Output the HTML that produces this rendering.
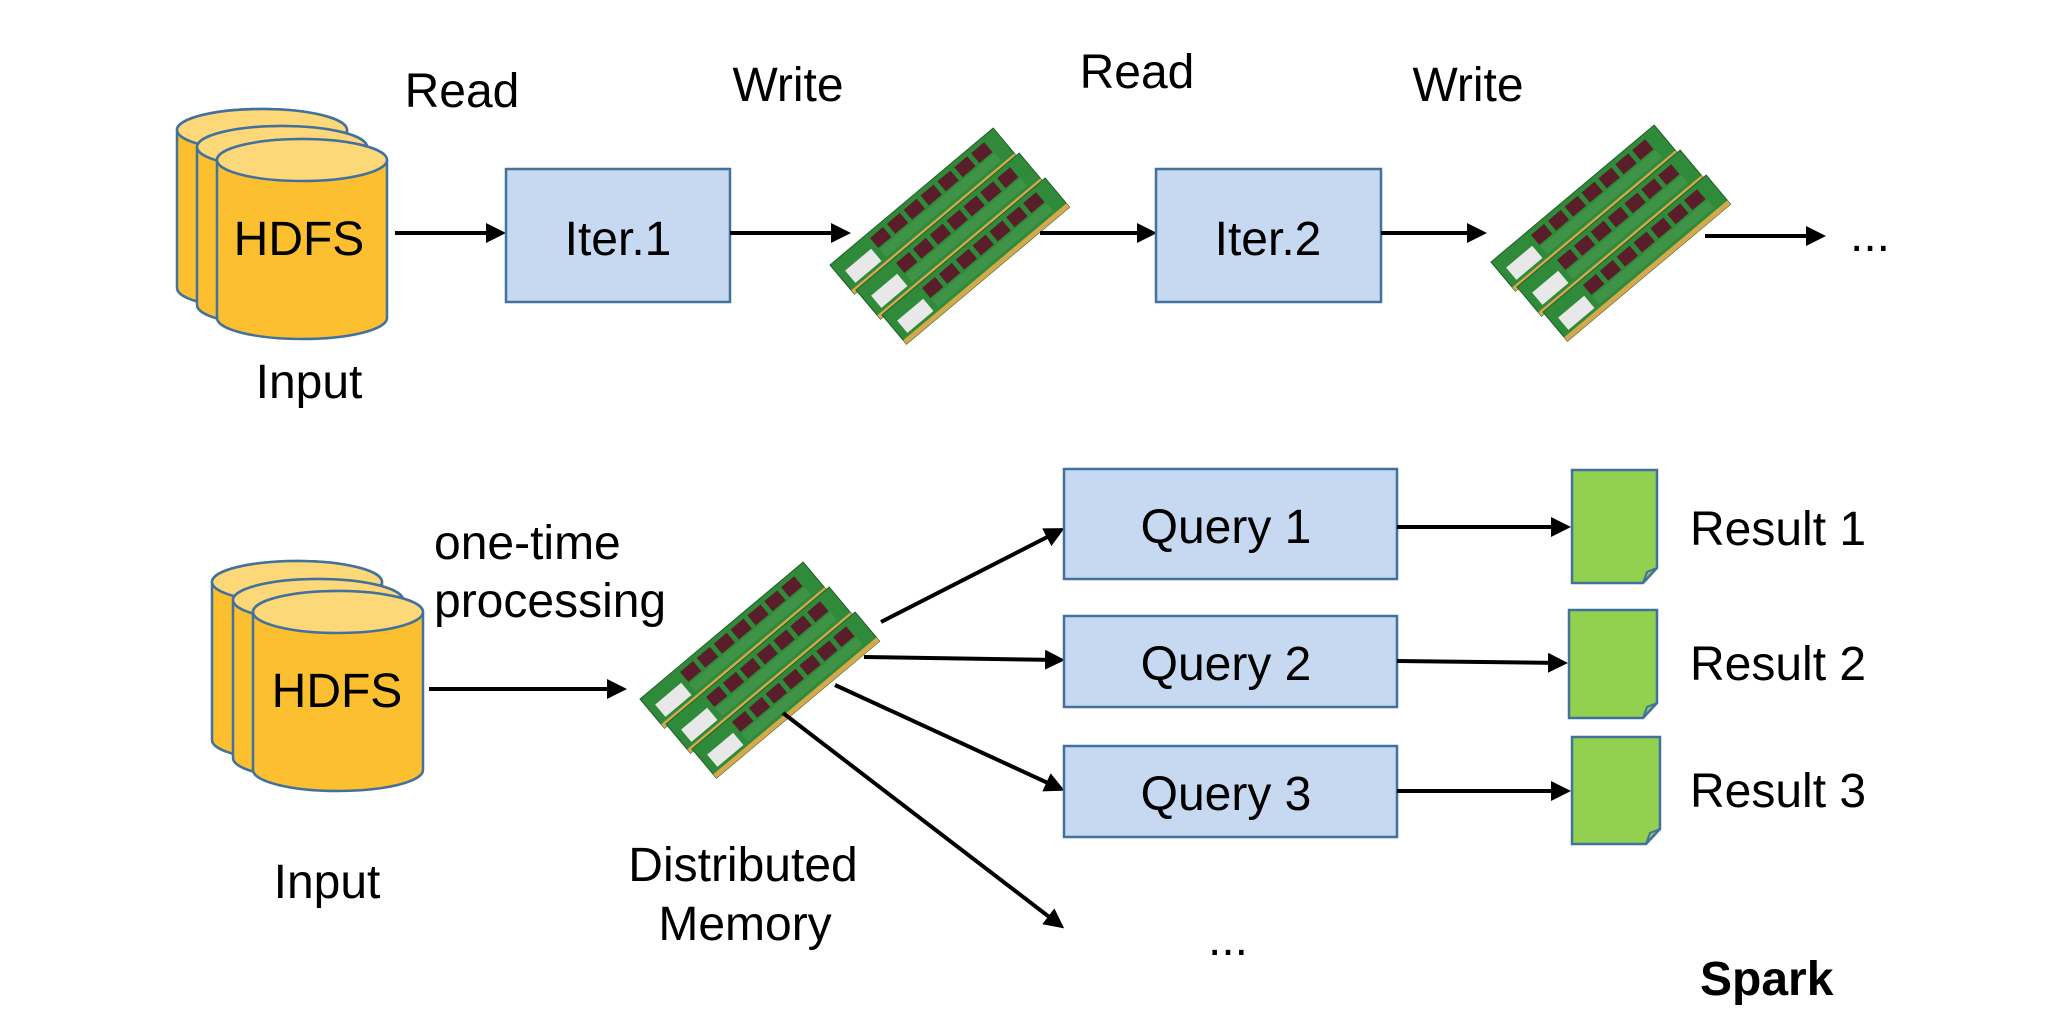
<!DOCTYPE html>
<html><head><meta charset="utf-8"><style>
html,body{margin:0;padding:0;background:#fff;}
svg{display:block;}
text{font-family:"Liberation Sans",sans-serif;fill:#000;}
</style></head><body>
<svg width="2054" height="1036" viewBox="0 0 2054 1036" xmlns="http://www.w3.org/2000/svg">
<defs>
<marker id="ah" markerWidth="5" markerHeight="5" refX="4" refY="2.5" orient="auto" markerUnits="strokeWidth">
<path d="M0,0 L5,2.5 L0,5 Z" fill="#000"/>
</marker>
<g id="stick">
<rect x="0" y="0" width="213" height="38" fill="#2f8a3a" stroke="#1f5f28" stroke-width="1"/>
<rect x="0" y="33" width="213" height="5" fill="#d6a84c"/>
<rect x="8" y="14" width="34" height="16" fill="#e8e8e8"/>
<rect x="48" y="5" width="17" height="13" fill="#5a1e2a"/>
<rect x="70" y="5" width="17" height="13" fill="#5a1e2a"/>
<rect x="92" y="5" width="17" height="13" fill="#5a1e2a"/>
<rect x="114" y="5" width="17" height="13" fill="#5a1e2a"/>
<rect x="136" y="5" width="17" height="13" fill="#5a1e2a"/>
<rect x="158" y="5" width="17" height="13" fill="#5a1e2a"/>
<rect x="180" y="5" width="17" height="13" fill="#5a1e2a"/>
<rect x="48" y="20" width="150" height="10" fill="#4a9a50" opacity="0.6"/>
</g>
<g id="ram">
<use href="#stick" transform="rotate(-40)"/>
<use href="#stick" transform="translate(26,25) rotate(-40)"/>
<use href="#stick" transform="translate(52,50) rotate(-40)"/>
</g>
<g id="cyl">
<path d="M0,0 A85,21 0 0 1 170,0 L170,158 A85,21 0 0 1 0,158 Z" fill="#fbbf2f" stroke="#41719c" stroke-width="2.5"/>
<ellipse cx="85" cy="0" rx="85" ry="21" fill="#fdd879" stroke="#41719c" stroke-width="2.5"/>
</g>
</defs>

<!-- Top row -->
<use href="#cyl" transform="translate(177,130)"/>
<use href="#cyl" transform="translate(197,147)"/>
<use href="#cyl" transform="translate(217,160)"/>
<text x="299" y="255" font-size="48" text-anchor="middle">HDFS</text>
<text x="309" y="398" font-size="48" text-anchor="middle">Input</text>

<text x="462" y="107" font-size="48" text-anchor="middle">Read</text>
<text x="788" y="101" font-size="48" text-anchor="middle">Write</text>
<text x="1137" y="88" font-size="48" text-anchor="middle">Read</text>
<text x="1468" y="101" font-size="48" text-anchor="middle">Write</text>

<line x1="395" y1="233" x2="502" y2="233" stroke="#000" stroke-width="4" marker-end="url(#ah)"/>
<rect x="506" y="169" width="224" height="133" fill="#c6d9f0" stroke="#41719c" stroke-width="2.5"/>
<text x="618" y="255" font-size="48" text-anchor="middle">Iter.1</text>
<line x1="730" y1="233" x2="847" y2="233" stroke="#000" stroke-width="4" marker-end="url(#ah)"/>
<use href="#ram" transform="translate(830,265)"/>
<line x1="1040" y1="233" x2="1153" y2="233" stroke="#000" stroke-width="4" marker-end="url(#ah)"/>
<rect x="1156" y="169" width="225" height="133" fill="#c6d9f0" stroke="#41719c" stroke-width="2.5"/>
<text x="1268" y="255" font-size="48" text-anchor="middle">Iter.2</text>
<line x1="1381" y1="233" x2="1483" y2="233" stroke="#000" stroke-width="4" marker-end="url(#ah)"/>
<use href="#ram" transform="translate(1491,262)"/>
<line x1="1705" y1="236" x2="1822" y2="236" stroke="#000" stroke-width="4" marker-end="url(#ah)"/>
<text x="1870" y="251" font-size="48" text-anchor="middle">...</text>

<!-- Bottom row -->
<use href="#cyl" transform="translate(212,582)"/>
<use href="#cyl" transform="translate(233,600)"/>
<use href="#cyl" transform="translate(253,612)"/>
<text x="337" y="707" font-size="48" text-anchor="middle">HDFS</text>
<text x="327" y="898" font-size="48" text-anchor="middle">Input</text>
<text x="434" y="559" font-size="48">one-time</text>
<text x="434" y="617" font-size="48">processing</text>
<line x1="429" y1="689" x2="623" y2="689" stroke="#000" stroke-width="4" marker-end="url(#ah)"/>
<use href="#ram" transform="translate(640,699)"/>
<text x="743" y="881" font-size="48" text-anchor="middle">Distributed</text>
<text x="745" y="940" font-size="48" text-anchor="middle">Memory</text>

<line x1="881" y1="622" x2="1061" y2="530" stroke="#000" stroke-width="4" marker-end="url(#ah)"/>
<line x1="864" y1="657" x2="1061" y2="660" stroke="#000" stroke-width="4" marker-end="url(#ah)"/>
<line x1="835" y1="685" x2="1061" y2="789" stroke="#000" stroke-width="4" marker-end="url(#ah)"/>
<line x1="783" y1="713" x2="1061" y2="926" stroke="#000" stroke-width="4" marker-end="url(#ah)"/>

<rect x="1064" y="469" width="333" height="110" fill="#c6d9f0" stroke="#41719c" stroke-width="2.5"/>
<text x="1226" y="543" font-size="48" text-anchor="middle">Query 1</text>
<rect x="1064" y="616" width="333" height="91" fill="#c6d9f0" stroke="#41719c" stroke-width="2.5"/>
<text x="1226" y="680" font-size="48" text-anchor="middle">Query 2</text>
<rect x="1064" y="746" width="333" height="91" fill="#c6d9f0" stroke="#41719c" stroke-width="2.5"/>
<text x="1226" y="810" font-size="48" text-anchor="middle">Query 3</text>
<text x="1228" y="955" font-size="48" text-anchor="middle">...</text>

<line x1="1397" y1="527" x2="1567" y2="527" stroke="#000" stroke-width="4" marker-end="url(#ah)"/>
<line x1="1397" y1="661" x2="1564" y2="663" stroke="#000" stroke-width="4" marker-end="url(#ah)"/>
<line x1="1397" y1="791" x2="1567" y2="791" stroke="#000" stroke-width="4" marker-end="url(#ah)"/>

<path d="M1572,470 L1657,470 L1657,568 L1643,583 L1572,583 Z" fill="#92d050" stroke="#41719c" stroke-width="2.5"/>
<path d="M1657,568 L1647,572 L1643,583" fill="none" stroke="#41719c" stroke-width="2"/>
<path d="M1569,610 L1657,610 L1657,703 L1643,718 L1569,718 Z" fill="#92d050" stroke="#41719c" stroke-width="2.5"/>
<path d="M1657,703 L1647,707 L1643,718" fill="none" stroke="#41719c" stroke-width="2"/>
<path d="M1572,737 L1660,737 L1660,829 L1646,844 L1572,844 Z" fill="#92d050" stroke="#41719c" stroke-width="2.5"/>
<path d="M1660,829 L1650,833 L1646,844" fill="none" stroke="#41719c" stroke-width="2"/>

<text x="1690" y="545" font-size="48">Result 1</text>
<text x="1690" y="680" font-size="48">Result 2</text>
<text x="1690" y="807" font-size="48">Result 3</text>
<text x="1700" y="995" font-size="48" font-weight="bold">Spark</text>
</svg>
</body></html>
